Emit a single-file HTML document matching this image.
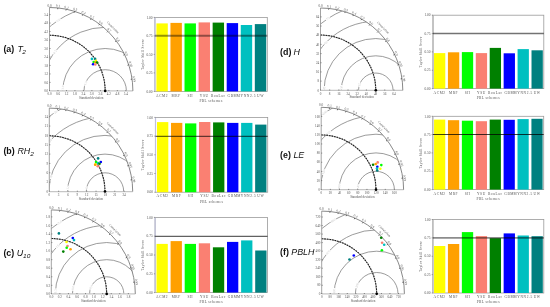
<!DOCTYPE html>
<html><head><meta charset="utf-8"><title>Taylor diagrams and skill scores</title>
<style>
html,body{margin:0;padding:0;background:#fff;}
body{width:550px;height:307px;overflow:hidden;}
svg{display:block;}
</style></head>
<body>
<svg width="550" height="307" viewBox="0 0 550 307">
<rect width="550" height="307" fill="#fff"/>
<clipPath id="c0"><path d="M49.5 90.9 L49.5 7.5 A83.4 83.4 0 0 1 132.9 90.9 Z"/></clipPath>
<g clip-path="url(#c0)" fill="none" stroke="#7a7a7a" stroke-width="0.75">
<circle cx="105.2" cy="90.9" r="21.2"/>
<circle cx="105.2" cy="90.9" r="42.4"/>
<circle cx="105.2" cy="90.9" r="63.6"/>
<circle cx="105.2" cy="90.9" r="84.8"/>
</g>
<g font-family="'Liberation Serif', serif" font-size="3.3" fill="#c8c8c8" stroke="#fff" stroke-width="1.6" paint-order="stroke">
<text transform="translate(85.45 83.2) rotate(-68.7)" text-anchor="middle" dy="1.1">1.5</text><text transform="translate(62.92 87.65) rotate(-85.6)" text-anchor="middle" dy="1.1">3.0</text><text transform="translate(54.95 51.92) rotate(-52.2)" text-anchor="middle" dy="1.1">4.5</text><text transform="translate(58.4 20.19) rotate(-33.5)" text-anchor="middle" dy="1.1">6.0</text>
</g>
<path d="M49.5 35.2 A55.7 55.7 0 0 1 105.2 90.9" fill="none" stroke="#9a9a9a" stroke-width="0.8"/>
<path d="M49.5 35.2 A55.7 55.7 0 0 1 105.2 90.9" fill="none" stroke="#1a1a1a" stroke-width="1.05" stroke-dasharray="1.7 0.9"/>
<line x1="49.5" y1="90.9" x2="132.9" y2="90.9" stroke="#c6c6c6" stroke-width="1.25"/>
<line x1="49.5" y1="90.9" x2="49.5" y2="7.5" stroke="#999" stroke-width="0.9"/>
<path d="M49.5 7.5 A83.4 83.4 0 0 1 132.9 90.9" fill="none" stroke="#6a6a6a" stroke-width="0.8"/>
<line x1="49.5" y1="90.1" x2="49.5" y2="91.1" stroke="#666" stroke-width="0.8"/>
<line x1="57.98" y1="90.1" x2="57.98" y2="91.1" stroke="#666" stroke-width="0.8"/>
<line x1="49.5" y1="82.42" x2="50.5" y2="82.42" stroke="#666" stroke-width="0.8"/>
<line x1="66.46" y1="90.1" x2="66.46" y2="91.1" stroke="#666" stroke-width="0.8"/>
<line x1="49.5" y1="73.94" x2="50.5" y2="73.94" stroke="#666" stroke-width="0.8"/>
<line x1="74.94" y1="90.1" x2="74.94" y2="91.1" stroke="#666" stroke-width="0.8"/>
<line x1="49.5" y1="65.46" x2="50.5" y2="65.46" stroke="#666" stroke-width="0.8"/>
<line x1="83.42" y1="90.1" x2="83.42" y2="91.1" stroke="#666" stroke-width="0.8"/>
<line x1="49.5" y1="56.98" x2="50.5" y2="56.98" stroke="#666" stroke-width="0.8"/>
<line x1="91.9" y1="90.1" x2="91.9" y2="91.1" stroke="#666" stroke-width="0.8"/>
<line x1="49.5" y1="48.5" x2="50.5" y2="48.5" stroke="#666" stroke-width="0.8"/>
<line x1="100.38" y1="90.1" x2="100.38" y2="91.1" stroke="#666" stroke-width="0.8"/>
<line x1="49.5" y1="40.02" x2="50.5" y2="40.02" stroke="#666" stroke-width="0.8"/>
<line x1="108.86" y1="90.1" x2="108.86" y2="91.1" stroke="#666" stroke-width="0.8"/>
<line x1="49.5" y1="31.54" x2="50.5" y2="31.54" stroke="#666" stroke-width="0.8"/>
<line x1="117.34" y1="90.1" x2="117.34" y2="91.1" stroke="#666" stroke-width="0.8"/>
<line x1="49.5" y1="23.06" x2="50.5" y2="23.06" stroke="#666" stroke-width="0.8"/>
<line x1="125.82" y1="90.1" x2="125.82" y2="91.1" stroke="#666" stroke-width="0.8"/>
<line x1="49.5" y1="14.58" x2="50.5" y2="14.58" stroke="#666" stroke-width="0.8"/>
<g font-family="'Liberation Serif', serif" font-size="3.25" fill="#555">
<text x="49.5" y="95.2" text-anchor="middle">0.0</text><text x="48.2" y="92.1" text-anchor="end">0.0</text><text x="57.98" y="95.2" text-anchor="middle">0.6</text><text x="48.2" y="83.62" text-anchor="end">0.6</text><text x="66.46" y="95.2" text-anchor="middle">1.2</text><text x="48.2" y="75.14" text-anchor="end">1.2</text><text x="74.94" y="95.2" text-anchor="middle">1.8</text><text x="48.2" y="66.66" text-anchor="end">1.8</text><text x="83.42" y="95.2" text-anchor="middle">2.4</text><text x="48.2" y="58.18" text-anchor="end">2.4</text><text x="91.9" y="95.2" text-anchor="middle">3.0</text><text x="48.2" y="49.7" text-anchor="end">3.0</text><text x="100.38" y="95.2" text-anchor="middle">3.6</text><text x="48.2" y="41.22" text-anchor="end">3.6</text><text x="108.86" y="95.2" text-anchor="middle">4.2</text><text x="48.2" y="32.74" text-anchor="end">4.2</text><text x="117.34" y="95.2" text-anchor="middle">4.8</text><text x="48.2" y="24.26" text-anchor="end">4.8</text><text x="125.82" y="95.2" text-anchor="middle">5.4</text><text x="48.2" y="15.78" text-anchor="end">5.4</text>
<text x="91.2" y="98.9" text-anchor="middle">Standard deviation</text>
</g>
<line x1="57.84" y1="7.92" x2="57.71" y2="9.21" stroke="#444" stroke-width="0.8"/>
<line x1="66.18" y1="9.19" x2="65.92" y2="10.46" stroke="#444" stroke-width="0.8"/>
<line x1="74.52" y1="11.34" x2="74.13" y2="12.58" stroke="#444" stroke-width="0.8"/>
<line x1="82.86" y1="14.46" x2="82.34" y2="15.65" stroke="#444" stroke-width="0.8"/>
<line x1="91.2" y1="18.67" x2="90.55" y2="19.8" stroke="#444" stroke-width="0.8"/>
<line x1="99.54" y1="24.18" x2="98.76" y2="25.22" stroke="#444" stroke-width="0.8"/>
<line x1="107.88" y1="31.34" x2="106.97" y2="32.27" stroke="#444" stroke-width="0.8"/>
<line x1="116.22" y1="40.86" x2="115.18" y2="41.64" stroke="#444" stroke-width="0.8"/>
<line x1="124.56" y1="54.55" x2="123.39" y2="55.11" stroke="#444" stroke-width="0.8"/>
<line x1="128.73" y1="64.86" x2="127.5" y2="65.26" stroke="#444" stroke-width="0.8"/>
<line x1="132.07" y1="79.13" x2="130.78" y2="79.32" stroke="#444" stroke-width="0.8"/>
<g font-family="'Liberation Serif', serif" font-size="3.4" fill="#555">
<text transform="translate(49.5 6.6) rotate(0)" text-anchor="middle">0.0</text><text transform="translate(57.93 7.02) rotate(5.74)" text-anchor="middle">0.1</text><text transform="translate(66.36 8.3) rotate(11.54)" text-anchor="middle">0.2</text><text transform="translate(74.79 10.48) rotate(17.46)" text-anchor="middle">0.3</text><text transform="translate(83.22 13.64) rotate(23.58)" text-anchor="middle">0.4</text><text transform="translate(91.65 17.89) rotate(30)" text-anchor="middle">0.5</text><text transform="translate(100.08 23.46) rotate(36.87)" text-anchor="middle">0.6</text><text transform="translate(108.51 30.7) rotate(44.43)" text-anchor="middle">0.7</text><text transform="translate(116.94 40.32) rotate(53.13)" text-anchor="middle">0.8</text><text transform="translate(125.37 54.15) rotate(64.16)" text-anchor="middle">0.9</text><text transform="translate(129.59 64.58) rotate(71.81)" text-anchor="middle">0.95</text><text transform="translate(132.96 79.01) rotate(81.89)" text-anchor="middle">0.99</text>
<text transform="translate(112.22 28.18) rotate(45)" text-anchor="middle" font-size="3.1" letter-spacing="0.15" fill="#333">Correlation</text>
</g>
<circle cx="105.2" cy="90.9" r="1.35" fill="#000"/>
<circle cx="91.9" cy="58.9" r="1.32" fill="#00c0c0"/>
<circle cx="95.1" cy="58.9" r="1.32" fill="#008080"/>
<circle cx="95.8" cy="60.9" r="1.32" fill="#ffff00"/>
<circle cx="93.7" cy="62" r="1.32" fill="#00ff00"/>
<circle cx="95.6" cy="62.2" r="1.32" fill="#ffa000"/>
<circle cx="97.1" cy="62.5" r="1.32" fill="#008000"/>
<circle cx="93.1" cy="64.2" r="1.32" fill="#0000ff"/>
<circle cx="95.3" cy="64.5" r="1.32" fill="#fa8072"/>
<rect x="154.9" y="17.4" width="112.4" height="74" fill="none" stroke="#9a9a9a" stroke-width="0.8"/>
<line x1="154.9" y1="17.4" x2="154.9" y2="91.4" stroke="#c0c2da" stroke-width="1.2"/>
<rect x="156.4" y="23.4" width="11.4" height="68" fill="#ffff00"/>
<rect x="170.46" y="22.9" width="11.4" height="68.5" fill="#ffa000"/>
<rect x="184.52" y="23.4" width="11.4" height="68" fill="#00ff00"/>
<rect x="198.58" y="22.4" width="11.4" height="69" fill="#fa8072"/>
<rect x="212.64" y="22.6" width="11.4" height="68.8" fill="#008000"/>
<rect x="226.7" y="23.1" width="11.4" height="68.3" fill="#0000ff"/>
<rect x="240.76" y="25" width="11.4" height="66.4" fill="#00c0c0"/>
<rect x="254.82" y="24.1" width="11.4" height="67.3" fill="#008080"/>
<line x1="154.9" y1="35.7" x2="267.3" y2="35.7" stroke="#000" stroke-opacity="0.42" stroke-width="2"/>
<line x1="153.7" y1="91.4" x2="154.9" y2="91.4" stroke="#777" stroke-width="0.7"/>
<line x1="153.7" y1="72.9" x2="154.9" y2="72.9" stroke="#777" stroke-width="0.7"/>
<line x1="153.7" y1="54.4" x2="154.9" y2="54.4" stroke="#777" stroke-width="0.7"/>
<line x1="153.7" y1="35.9" x2="154.9" y2="35.9" stroke="#777" stroke-width="0.7"/>
<line x1="153.7" y1="17.4" x2="154.9" y2="17.4" stroke="#777" stroke-width="0.7"/>
<g font-family="'Liberation Serif', serif" font-size="3.5" fill="#555">
<text x="152.5" y="92.6" text-anchor="end">0.00</text><text x="152.5" y="74.1" text-anchor="end">0.25</text><text x="152.5" y="55.6" text-anchor="end">0.50</text><text x="152.5" y="37.1" text-anchor="end">0.75</text><text x="152.5" y="18.6" text-anchor="end">1.00</text><text x="162.1" y="96.6" text-anchor="middle" letter-spacing="0.6">ACM2</text><text x="176.16" y="96.6" text-anchor="middle" letter-spacing="0.6">MRF</text><text x="190.22" y="96.6" text-anchor="middle" letter-spacing="0.6">SH</text><text x="204.28" y="96.6" text-anchor="middle" letter-spacing="0.6">YSU</text><text x="218.34" y="96.6" text-anchor="middle" letter-spacing="0.6">BouLac</text><text x="232.4" y="96.6" text-anchor="middle" letter-spacing="0.6">GBM</text><text x="246.46" y="96.6" text-anchor="middle" letter-spacing="0.6">MYNN2.5</text><text x="260.52" y="96.6" text-anchor="middle" letter-spacing="0.6">UW</text>
<text x="211.1" y="101.7" text-anchor="middle" letter-spacing="0.4">PBL schemes</text>
<text transform="translate(143.6 54.4) rotate(-90)" text-anchor="middle" letter-spacing="0.3">Taylor Skill Score</text>
</g>
<g font-family="'Liberation Sans', sans-serif" font-size="8.4" fill="#111"><text transform="translate(3.4 52.1) scale(1.06 1)" font-weight="bold">(a)</text><text transform="translate(17.4 52.1) scale(1.06 1)" font-style="italic">T</text><text transform="translate(22.3 54.1) scale(1.06 1)" font-style="italic" font-size="6.22">2</text></g>
<clipPath id="c1"><path d="M49.3 191.5 L49.3 108.1 A83.4 83.4 0 0 1 132.7 191.5 Z"/></clipPath>
<g clip-path="url(#c1)" fill="none" stroke="#7a7a7a" stroke-width="0.75">
<circle cx="105" cy="191.5" r="18.7"/>
<circle cx="105" cy="191.5" r="37.4"/>
<circle cx="105" cy="191.5" r="56.1"/>
<circle cx="105" cy="191.5" r="74.8"/>
<circle cx="105" cy="191.5" r="93.5"/>
</g>
<g font-family="'Liberation Serif', serif" font-size="3.3" fill="#c8c8c8" stroke="#fff" stroke-width="1.6" paint-order="stroke">
<text transform="translate(86.64 187.93) rotate(-79)" text-anchor="middle" dy="1.1">6</text><text transform="translate(67.77 187.98) rotate(-84.6)" text-anchor="middle" dy="1.1">12</text><text transform="translate(50.81 176.98) rotate(-75)" text-anchor="middle" dy="1.1">18</text><text transform="translate(50.29 140.49) rotate(-47)" text-anchor="middle" dy="1.1">24</text><text transform="translate(55.59 112.12) rotate(-31.9)" text-anchor="middle" dy="1.1">30</text>
</g>
<path d="M49.3 135.8 A55.7 55.7 0 0 1 105 191.5" fill="none" stroke="#9a9a9a" stroke-width="0.8"/>
<path d="M49.3 135.8 A55.7 55.7 0 0 1 105 191.5" fill="none" stroke="#1a1a1a" stroke-width="1.05" stroke-dasharray="1.7 0.9"/>
<line x1="49.3" y1="191.5" x2="132.7" y2="191.5" stroke="#c6c6c6" stroke-width="1.25"/>
<line x1="49.3" y1="191.5" x2="49.3" y2="108.1" stroke="#999" stroke-width="0.9"/>
<path d="M49.3 108.1 A83.4 83.4 0 0 1 132.7 191.5" fill="none" stroke="#6a6a6a" stroke-width="0.8"/>
<line x1="49.3" y1="190.7" x2="49.3" y2="191.7" stroke="#666" stroke-width="0.8"/>
<line x1="58.65" y1="190.7" x2="58.65" y2="191.7" stroke="#666" stroke-width="0.8"/>
<line x1="49.3" y1="182.15" x2="50.3" y2="182.15" stroke="#666" stroke-width="0.8"/>
<line x1="68" y1="190.7" x2="68" y2="191.7" stroke="#666" stroke-width="0.8"/>
<line x1="49.3" y1="172.8" x2="50.3" y2="172.8" stroke="#666" stroke-width="0.8"/>
<line x1="77.35" y1="190.7" x2="77.35" y2="191.7" stroke="#666" stroke-width="0.8"/>
<line x1="49.3" y1="163.45" x2="50.3" y2="163.45" stroke="#666" stroke-width="0.8"/>
<line x1="86.7" y1="190.7" x2="86.7" y2="191.7" stroke="#666" stroke-width="0.8"/>
<line x1="49.3" y1="154.1" x2="50.3" y2="154.1" stroke="#666" stroke-width="0.8"/>
<line x1="96.05" y1="190.7" x2="96.05" y2="191.7" stroke="#666" stroke-width="0.8"/>
<line x1="49.3" y1="144.75" x2="50.3" y2="144.75" stroke="#666" stroke-width="0.8"/>
<line x1="105.4" y1="190.7" x2="105.4" y2="191.7" stroke="#666" stroke-width="0.8"/>
<line x1="49.3" y1="135.4" x2="50.3" y2="135.4" stroke="#666" stroke-width="0.8"/>
<line x1="114.75" y1="190.7" x2="114.75" y2="191.7" stroke="#666" stroke-width="0.8"/>
<line x1="49.3" y1="126.05" x2="50.3" y2="126.05" stroke="#666" stroke-width="0.8"/>
<line x1="124.1" y1="190.7" x2="124.1" y2="191.7" stroke="#666" stroke-width="0.8"/>
<line x1="49.3" y1="116.7" x2="50.3" y2="116.7" stroke="#666" stroke-width="0.8"/>
<g font-family="'Liberation Serif', serif" font-size="3.25" fill="#555">
<text x="49.3" y="195.8" text-anchor="middle">0</text><text x="48" y="192.7" text-anchor="end">0</text><text x="58.65" y="195.8" text-anchor="middle">3</text><text x="48" y="183.35" text-anchor="end">3</text><text x="68" y="195.8" text-anchor="middle">6</text><text x="48" y="174" text-anchor="end">6</text><text x="77.35" y="195.8" text-anchor="middle">9</text><text x="48" y="164.65" text-anchor="end">9</text><text x="86.7" y="195.8" text-anchor="middle">12</text><text x="48" y="155.3" text-anchor="end">12</text><text x="96.05" y="195.8" text-anchor="middle">15</text><text x="48" y="145.95" text-anchor="end">15</text><text x="105.4" y="195.8" text-anchor="middle">18</text><text x="48" y="136.6" text-anchor="end">18</text><text x="114.75" y="195.8" text-anchor="middle">21</text><text x="48" y="127.25" text-anchor="end">21</text><text x="124.1" y="195.8" text-anchor="middle">24</text><text x="48" y="117.9" text-anchor="end">24</text>
<text x="91" y="199.5" text-anchor="middle">Standard deviation</text>
</g>
<line x1="57.64" y1="108.52" x2="57.51" y2="109.81" stroke="#444" stroke-width="0.8"/>
<line x1="65.98" y1="109.79" x2="65.72" y2="111.06" stroke="#444" stroke-width="0.8"/>
<line x1="74.32" y1="111.94" x2="73.93" y2="113.18" stroke="#444" stroke-width="0.8"/>
<line x1="82.66" y1="115.06" x2="82.14" y2="116.25" stroke="#444" stroke-width="0.8"/>
<line x1="91" y1="119.27" x2="90.35" y2="120.4" stroke="#444" stroke-width="0.8"/>
<line x1="99.34" y1="124.78" x2="98.56" y2="125.82" stroke="#444" stroke-width="0.8"/>
<line x1="107.68" y1="131.94" x2="106.77" y2="132.87" stroke="#444" stroke-width="0.8"/>
<line x1="116.02" y1="141.46" x2="114.98" y2="142.24" stroke="#444" stroke-width="0.8"/>
<line x1="124.36" y1="155.15" x2="123.19" y2="155.71" stroke="#444" stroke-width="0.8"/>
<line x1="128.53" y1="165.46" x2="127.3" y2="165.86" stroke="#444" stroke-width="0.8"/>
<line x1="131.87" y1="179.73" x2="130.58" y2="179.92" stroke="#444" stroke-width="0.8"/>
<g font-family="'Liberation Serif', serif" font-size="3.4" fill="#555">
<text transform="translate(49.3 107.2) rotate(0)" text-anchor="middle">0.0</text><text transform="translate(57.73 107.62) rotate(5.74)" text-anchor="middle">0.1</text><text transform="translate(66.16 108.9) rotate(11.54)" text-anchor="middle">0.2</text><text transform="translate(74.59 111.08) rotate(17.46)" text-anchor="middle">0.3</text><text transform="translate(83.02 114.24) rotate(23.58)" text-anchor="middle">0.4</text><text transform="translate(91.45 118.49) rotate(30)" text-anchor="middle">0.5</text><text transform="translate(99.88 124.06) rotate(36.87)" text-anchor="middle">0.6</text><text transform="translate(108.31 131.3) rotate(44.43)" text-anchor="middle">0.7</text><text transform="translate(116.74 140.92) rotate(53.13)" text-anchor="middle">0.8</text><text transform="translate(125.17 154.75) rotate(64.16)" text-anchor="middle">0.9</text><text transform="translate(129.38 165.18) rotate(71.81)" text-anchor="middle">0.95</text><text transform="translate(132.76 179.61) rotate(81.89)" text-anchor="middle">0.99</text>
<text transform="translate(112.02 128.78) rotate(45)" text-anchor="middle" font-size="3.1" letter-spacing="0.15" fill="#333">Correlation</text>
</g>
<circle cx="105" cy="191.5" r="1.35" fill="#000"/>
<circle cx="95.4" cy="164.4" r="1.32" fill="#ffff00"/>
<circle cx="98.1" cy="158.4" r="1.32" fill="#008080"/>
<circle cx="96.1" cy="162" r="1.32" fill="#00ff00"/>
<circle cx="100.8" cy="162" r="1.32" fill="#0000ff"/>
<circle cx="98" cy="163.1" r="1.32" fill="#00c0c0"/>
<circle cx="99.5" cy="163.8" r="1.32" fill="#008000"/>
<circle cx="95.2" cy="164.8" r="1.32" fill="#ffa000"/>
<circle cx="97.8" cy="166.3" r="1.32" fill="#fa8072"/>
<rect x="155.5" y="117.4" width="112.2" height="74.8" fill="none" stroke="#9a9a9a" stroke-width="0.8"/>
<line x1="155.5" y1="117.4" x2="155.5" y2="192.2" stroke="#c0c2da" stroke-width="1.2"/>
<rect x="157" y="122.1" width="11.3" height="70.1" fill="#ffff00"/>
<rect x="171.02" y="122.9" width="11.3" height="69.3" fill="#ffa000"/>
<rect x="185.04" y="123.4" width="11.3" height="68.8" fill="#00ff00"/>
<rect x="199.06" y="122" width="11.3" height="70.2" fill="#fa8072"/>
<rect x="213.08" y="122.4" width="11.3" height="69.8" fill="#008000"/>
<rect x="227.1" y="122.9" width="11.3" height="69.3" fill="#0000ff"/>
<rect x="241.12" y="122.9" width="11.3" height="69.3" fill="#00c0c0"/>
<rect x="255.14" y="124.6" width="11.3" height="67.6" fill="#008080"/>
<line x1="155.5" y1="136.35" x2="267.7" y2="136.35" stroke="#000" stroke-opacity="0.6" stroke-width="1.3"/>
<line x1="154.3" y1="192.2" x2="155.5" y2="192.2" stroke="#777" stroke-width="0.7"/>
<line x1="154.3" y1="173.5" x2="155.5" y2="173.5" stroke="#777" stroke-width="0.7"/>
<line x1="154.3" y1="154.8" x2="155.5" y2="154.8" stroke="#777" stroke-width="0.7"/>
<line x1="154.3" y1="136.1" x2="155.5" y2="136.1" stroke="#777" stroke-width="0.7"/>
<line x1="154.3" y1="117.4" x2="155.5" y2="117.4" stroke="#777" stroke-width="0.7"/>
<g font-family="'Liberation Serif', serif" font-size="3.5" fill="#555">
<text x="153.1" y="193.4" text-anchor="end">0.00</text><text x="153.1" y="174.7" text-anchor="end">0.25</text><text x="153.1" y="156" text-anchor="end">0.50</text><text x="153.1" y="137.3" text-anchor="end">0.75</text><text x="153.1" y="118.6" text-anchor="end">1.00</text><text x="162.65" y="197.4" text-anchor="middle" letter-spacing="0.6">ACM2</text><text x="176.67" y="197.4" text-anchor="middle" letter-spacing="0.6">MRF</text><text x="190.69" y="197.4" text-anchor="middle" letter-spacing="0.6">SH</text><text x="204.71" y="197.4" text-anchor="middle" letter-spacing="0.6">YSU</text><text x="218.73" y="197.4" text-anchor="middle" letter-spacing="0.6">BouLac</text><text x="232.75" y="197.4" text-anchor="middle" letter-spacing="0.6">GBM</text><text x="246.77" y="197.4" text-anchor="middle" letter-spacing="0.6">MYNN2.5</text><text x="260.79" y="197.4" text-anchor="middle" letter-spacing="0.6">UW</text>
<text x="211.6" y="202.5" text-anchor="middle" letter-spacing="0.4">PBL schemes</text>
<text transform="translate(144.2 154.8) rotate(-90)" text-anchor="middle" letter-spacing="0.3">Taylor Skill Score</text>
</g>
<g font-family="'Liberation Sans', sans-serif" font-size="8.4" fill="#111"><text transform="translate(3.4 153.8) scale(1.06 1)" font-weight="bold">(b)</text><text transform="translate(17.4 153.8) scale(1.06 1)" font-style="italic">RH</text><text transform="translate(30.3 155.8) scale(1.06 1)" font-style="italic" font-size="6.22">2</text></g>
<clipPath id="c2"><path d="M51.3 293.9 L51.3 209.9 A84 84 0 0 1 135.3 293.9 Z"/></clipPath>
<g clip-path="url(#c2)" fill="none" stroke="#7a7a7a" stroke-width="0.75">
<circle cx="106.7" cy="293.9" r="17.12"/>
<circle cx="106.7" cy="293.9" r="34.24"/>
<circle cx="106.7" cy="293.9" r="51.36"/>
<circle cx="106.7" cy="293.9" r="68.48"/>
<circle cx="106.7" cy="293.9" r="85.6"/>
</g>
<g font-family="'Liberation Serif', serif" font-size="3.3" fill="#c8c8c8" stroke="#fff" stroke-width="1.6" paint-order="stroke">
<text transform="translate(91.12 286.8) rotate(-65.5)" text-anchor="middle" dy="1.1">0.4</text><text transform="translate(72.96 288.07) rotate(-80.2)" text-anchor="middle" dy="1.1">0.8</text><text transform="translate(55.42 291.03) rotate(-86.8)" text-anchor="middle" dy="1.1">1.2</text><text transform="translate(57.52 246.24) rotate(-45.9)" text-anchor="middle" dy="1.1">1.6</text><text transform="translate(59.7 222.35) rotate(-33.3)" text-anchor="middle" dy="1.1">2.0</text>
</g>
<path d="M51.3 238.5 A55.4 55.4 0 0 1 106.7 293.9" fill="none" stroke="#9a9a9a" stroke-width="0.8"/>
<path d="M51.3 238.5 A55.4 55.4 0 0 1 106.7 293.9" fill="none" stroke="#1a1a1a" stroke-width="1.05" stroke-dasharray="1.7 0.9"/>
<line x1="51.3" y1="293.9" x2="135.3" y2="293.9" stroke="#c6c6c6" stroke-width="1.25"/>
<line x1="51.3" y1="293.9" x2="51.3" y2="209.9" stroke="#999" stroke-width="0.9"/>
<path d="M51.3 209.9 A84 84 0 0 1 135.3 293.9" fill="none" stroke="#6a6a6a" stroke-width="0.8"/>
<line x1="51.3" y1="293.1" x2="51.3" y2="294.1" stroke="#666" stroke-width="0.8"/>
<line x1="59.86" y1="293.1" x2="59.86" y2="294.1" stroke="#666" stroke-width="0.8"/>
<line x1="51.3" y1="285.34" x2="52.3" y2="285.34" stroke="#666" stroke-width="0.8"/>
<line x1="68.42" y1="293.1" x2="68.42" y2="294.1" stroke="#666" stroke-width="0.8"/>
<line x1="51.3" y1="276.78" x2="52.3" y2="276.78" stroke="#666" stroke-width="0.8"/>
<line x1="76.98" y1="293.1" x2="76.98" y2="294.1" stroke="#666" stroke-width="0.8"/>
<line x1="51.3" y1="268.22" x2="52.3" y2="268.22" stroke="#666" stroke-width="0.8"/>
<line x1="85.54" y1="293.1" x2="85.54" y2="294.1" stroke="#666" stroke-width="0.8"/>
<line x1="51.3" y1="259.66" x2="52.3" y2="259.66" stroke="#666" stroke-width="0.8"/>
<line x1="94.1" y1="293.1" x2="94.1" y2="294.1" stroke="#666" stroke-width="0.8"/>
<line x1="51.3" y1="251.1" x2="52.3" y2="251.1" stroke="#666" stroke-width="0.8"/>
<line x1="102.66" y1="293.1" x2="102.66" y2="294.1" stroke="#666" stroke-width="0.8"/>
<line x1="51.3" y1="242.54" x2="52.3" y2="242.54" stroke="#666" stroke-width="0.8"/>
<line x1="111.22" y1="293.1" x2="111.22" y2="294.1" stroke="#666" stroke-width="0.8"/>
<line x1="51.3" y1="233.98" x2="52.3" y2="233.98" stroke="#666" stroke-width="0.8"/>
<line x1="119.78" y1="293.1" x2="119.78" y2="294.1" stroke="#666" stroke-width="0.8"/>
<line x1="51.3" y1="225.42" x2="52.3" y2="225.42" stroke="#666" stroke-width="0.8"/>
<line x1="128.34" y1="293.1" x2="128.34" y2="294.1" stroke="#666" stroke-width="0.8"/>
<line x1="51.3" y1="216.86" x2="52.3" y2="216.86" stroke="#666" stroke-width="0.8"/>
<g font-family="'Liberation Serif', serif" font-size="3.25" fill="#555">
<text x="51.3" y="298.2" text-anchor="middle">0.0</text><text x="50" y="295.1" text-anchor="end">0.0</text><text x="59.86" y="298.2" text-anchor="middle">0.2</text><text x="50" y="286.54" text-anchor="end">0.2</text><text x="68.42" y="298.2" text-anchor="middle">0.4</text><text x="50" y="277.98" text-anchor="end">0.4</text><text x="76.98" y="298.2" text-anchor="middle">0.6</text><text x="50" y="269.42" text-anchor="end">0.6</text><text x="85.54" y="298.2" text-anchor="middle">0.8</text><text x="50" y="260.86" text-anchor="end">0.8</text><text x="94.1" y="298.2" text-anchor="middle">1.0</text><text x="50" y="252.3" text-anchor="end">1.0</text><text x="102.66" y="298.2" text-anchor="middle">1.2</text><text x="50" y="243.74" text-anchor="end">1.2</text><text x="111.22" y="298.2" text-anchor="middle">1.4</text><text x="50" y="235.18" text-anchor="end">1.4</text><text x="119.78" y="298.2" text-anchor="middle">1.6</text><text x="50" y="226.62" text-anchor="end">1.6</text><text x="128.34" y="298.2" text-anchor="middle">1.8</text><text x="50" y="218.06" text-anchor="end">1.8</text>
<text x="93.3" y="301.9" text-anchor="middle">Standard deviation</text>
</g>
<line x1="59.7" y1="210.32" x2="59.57" y2="211.61" stroke="#444" stroke-width="0.8"/>
<line x1="68.1" y1="211.6" x2="67.84" y2="212.87" stroke="#444" stroke-width="0.8"/>
<line x1="76.5" y1="213.77" x2="76.11" y2="215.01" stroke="#444" stroke-width="0.8"/>
<line x1="84.9" y1="216.91" x2="84.38" y2="218.1" stroke="#444" stroke-width="0.8"/>
<line x1="93.3" y1="221.15" x2="92.65" y2="222.28" stroke="#444" stroke-width="0.8"/>
<line x1="101.7" y1="226.7" x2="100.92" y2="227.74" stroke="#444" stroke-width="0.8"/>
<line x1="110.1" y1="233.91" x2="109.19" y2="234.84" stroke="#444" stroke-width="0.8"/>
<line x1="118.5" y1="243.5" x2="117.46" y2="244.28" stroke="#444" stroke-width="0.8"/>
<line x1="126.9" y1="257.29" x2="125.73" y2="257.85" stroke="#444" stroke-width="0.8"/>
<line x1="131.1" y1="267.67" x2="129.87" y2="268.08" stroke="#444" stroke-width="0.8"/>
<line x1="134.46" y1="282.05" x2="133.17" y2="282.23" stroke="#444" stroke-width="0.8"/>
<g font-family="'Liberation Serif', serif" font-size="3.4" fill="#555">
<text transform="translate(51.3 209) rotate(0)" text-anchor="middle">0.0</text><text transform="translate(59.79 209.43) rotate(5.74)" text-anchor="middle">0.1</text><text transform="translate(68.28 210.72) rotate(11.54)" text-anchor="middle">0.2</text><text transform="translate(76.77 212.91) rotate(17.46)" text-anchor="middle">0.3</text><text transform="translate(85.26 216.09) rotate(23.58)" text-anchor="middle">0.4</text><text transform="translate(93.75 220.37) rotate(30)" text-anchor="middle">0.5</text><text transform="translate(102.24 225.98) rotate(36.87)" text-anchor="middle">0.6</text><text transform="translate(110.73 233.27) rotate(44.43)" text-anchor="middle">0.7</text><text transform="translate(119.22 242.96) rotate(53.13)" text-anchor="middle">0.8</text><text transform="translate(127.71 256.89) rotate(64.16)" text-anchor="middle">0.9</text><text transform="translate(131.95 267.39) rotate(71.81)" text-anchor="middle">0.95</text><text transform="translate(135.35 281.92) rotate(81.89)" text-anchor="middle">0.99</text>
<text transform="translate(114.44 230.76) rotate(45)" text-anchor="middle" font-size="3.1" letter-spacing="0.15" fill="#333">Correlation</text>
</g>
<circle cx="106.7" cy="293.9" r="1.35" fill="#000"/>
<circle cx="58.9" cy="233.4" r="1.32" fill="#008080"/>
<circle cx="72.8" cy="238" r="1.32" fill="#0000ff"/>
<circle cx="74" cy="240.1" r="1.32" fill="#00c0c0"/>
<circle cx="66.5" cy="242" r="1.32" fill="#ffff00"/>
<circle cx="67.5" cy="246" r="1.32" fill="#fa8072"/>
<circle cx="66.7" cy="247.7" r="1.32" fill="#00ff00"/>
<circle cx="70.5" cy="249.3" r="1.32" fill="#ffa000"/>
<circle cx="63.3" cy="251.6" r="1.32" fill="#008000"/>
<rect x="155.1" y="217.4" width="112.4" height="75.2" fill="none" stroke="#9a9a9a" stroke-width="0.8"/>
<line x1="155.1" y1="217.4" x2="155.1" y2="292.6" stroke="#c0c2da" stroke-width="1.2"/>
<rect x="156.5" y="243.9" width="11.3" height="48.7" fill="#ffff00"/>
<rect x="170.6" y="241.1" width="11.3" height="51.5" fill="#ffa000"/>
<rect x="184.7" y="243.9" width="11.3" height="48.7" fill="#00ff00"/>
<rect x="198.8" y="243.3" width="11.3" height="49.3" fill="#fa8072"/>
<rect x="212.9" y="247.3" width="11.3" height="45.3" fill="#008000"/>
<rect x="227" y="241.9" width="11.3" height="50.7" fill="#0000ff"/>
<rect x="241.1" y="240.4" width="11.3" height="52.2" fill="#00c0c0"/>
<rect x="255.2" y="250.5" width="11.3" height="42.1" fill="#008080"/>
<line x1="155.1" y1="236.4" x2="267.5" y2="236.4" stroke="#000" stroke-opacity="0.62" stroke-width="1.3"/>
<line x1="153.9" y1="292.6" x2="155.1" y2="292.6" stroke="#777" stroke-width="0.7"/>
<line x1="153.9" y1="273.8" x2="155.1" y2="273.8" stroke="#777" stroke-width="0.7"/>
<line x1="153.9" y1="255" x2="155.1" y2="255" stroke="#777" stroke-width="0.7"/>
<line x1="153.9" y1="236.2" x2="155.1" y2="236.2" stroke="#777" stroke-width="0.7"/>
<line x1="153.9" y1="217.4" x2="155.1" y2="217.4" stroke="#777" stroke-width="0.7"/>
<g font-family="'Liberation Serif', serif" font-size="3.5" fill="#555">
<text x="152.7" y="293.8" text-anchor="end">0.00</text><text x="152.7" y="275" text-anchor="end">0.25</text><text x="152.7" y="256.2" text-anchor="end">0.50</text><text x="152.7" y="237.4" text-anchor="end">0.75</text><text x="152.7" y="218.6" text-anchor="end">1.00</text><text x="162.15" y="297.8" text-anchor="middle" letter-spacing="0.6">ACM2</text><text x="176.25" y="297.8" text-anchor="middle" letter-spacing="0.6">MRF</text><text x="190.35" y="297.8" text-anchor="middle" letter-spacing="0.6">SH</text><text x="204.45" y="297.8" text-anchor="middle" letter-spacing="0.6">YSU</text><text x="218.55" y="297.8" text-anchor="middle" letter-spacing="0.6">BouLac</text><text x="232.65" y="297.8" text-anchor="middle" letter-spacing="0.6">GBM</text><text x="246.75" y="297.8" text-anchor="middle" letter-spacing="0.6">MYNN2.5</text><text x="260.85" y="297.8" text-anchor="middle" letter-spacing="0.6">UW</text>
<text x="211.3" y="302.9" text-anchor="middle" letter-spacing="0.4">PBL schemes</text>
<text transform="translate(143.8 255) rotate(-90)" text-anchor="middle" letter-spacing="0.3">Taylor Skill Score</text>
</g>
<g font-family="'Liberation Sans', sans-serif" font-size="8.4" fill="#111"><text transform="translate(3.4 255.5) scale(1.06 1)" font-weight="bold">(c)</text><text transform="translate(16.8 255.5) scale(1.06 1)" font-style="italic">U</text><text transform="translate(23.1 257.5) scale(1.06 1)" font-style="italic" font-size="6.22">10</text></g>
<clipPath id="c3"><path d="M320.5 90.3 L320.5 8 A82.3 82.3 0 0 1 402.8 90.3 Z"/></clipPath>
<g clip-path="url(#c3)" fill="none" stroke="#7a7a7a" stroke-width="0.75">
<circle cx="375.8" cy="90.3" r="17.25"/>
<circle cx="375.8" cy="90.3" r="34.5"/>
<circle cx="375.8" cy="90.3" r="51.75"/>
<circle cx="375.8" cy="90.3" r="69"/>
<circle cx="375.8" cy="90.3" r="86.25"/>
</g>
<g font-family="'Liberation Serif', serif" font-size="3.3" fill="#c8c8c8" stroke="#fff" stroke-width="1.6" paint-order="stroke">
<text transform="translate(359.49 84.68) rotate(-71)" text-anchor="middle" dy="1.1">15</text><text transform="translate(341.43 87.29) rotate(-85)" text-anchor="middle" dy="1.1">30</text><text transform="translate(324.09 88.31) rotate(-87.8)" text-anchor="middle" dy="1.1">45</text><text transform="translate(325.92 42.63) rotate(-46.3)" text-anchor="middle" dy="1.1">60</text><text transform="translate(327.82 18.63) rotate(-33.8)" text-anchor="middle" dy="1.1">75</text>
</g>
<path d="M320.5 35 A55.3 55.3 0 0 1 375.8 90.3" fill="none" stroke="#9a9a9a" stroke-width="0.8"/>
<path d="M320.5 35 A55.3 55.3 0 0 1 375.8 90.3" fill="none" stroke="#1a1a1a" stroke-width="1.05" stroke-dasharray="1.7 0.9"/>
<line x1="320.5" y1="90.3" x2="402.8" y2="90.3" stroke="#c6c6c6" stroke-width="1.25"/>
<line x1="320.5" y1="90.3" x2="320.5" y2="8" stroke="#999" stroke-width="0.9"/>
<path d="M320.5 8 A82.3 82.3 0 0 1 402.8 90.3" fill="none" stroke="#6a6a6a" stroke-width="0.8"/>
<line x1="320.5" y1="89.5" x2="320.5" y2="90.5" stroke="#666" stroke-width="0.8"/>
<line x1="329.68" y1="89.5" x2="329.68" y2="90.5" stroke="#666" stroke-width="0.8"/>
<line x1="320.5" y1="81.12" x2="321.5" y2="81.12" stroke="#666" stroke-width="0.8"/>
<line x1="338.86" y1="89.5" x2="338.86" y2="90.5" stroke="#666" stroke-width="0.8"/>
<line x1="320.5" y1="71.94" x2="321.5" y2="71.94" stroke="#666" stroke-width="0.8"/>
<line x1="348.04" y1="89.5" x2="348.04" y2="90.5" stroke="#666" stroke-width="0.8"/>
<line x1="320.5" y1="62.76" x2="321.5" y2="62.76" stroke="#666" stroke-width="0.8"/>
<line x1="357.22" y1="89.5" x2="357.22" y2="90.5" stroke="#666" stroke-width="0.8"/>
<line x1="320.5" y1="53.58" x2="321.5" y2="53.58" stroke="#666" stroke-width="0.8"/>
<line x1="366.4" y1="89.5" x2="366.4" y2="90.5" stroke="#666" stroke-width="0.8"/>
<line x1="320.5" y1="44.4" x2="321.5" y2="44.4" stroke="#666" stroke-width="0.8"/>
<line x1="375.58" y1="89.5" x2="375.58" y2="90.5" stroke="#666" stroke-width="0.8"/>
<line x1="320.5" y1="35.22" x2="321.5" y2="35.22" stroke="#666" stroke-width="0.8"/>
<line x1="384.76" y1="89.5" x2="384.76" y2="90.5" stroke="#666" stroke-width="0.8"/>
<line x1="320.5" y1="26.04" x2="321.5" y2="26.04" stroke="#666" stroke-width="0.8"/>
<line x1="393.94" y1="89.5" x2="393.94" y2="90.5" stroke="#666" stroke-width="0.8"/>
<line x1="320.5" y1="16.86" x2="321.5" y2="16.86" stroke="#666" stroke-width="0.8"/>
<g font-family="'Liberation Serif', serif" font-size="3.25" fill="#555">
<text x="320.5" y="94.6" text-anchor="middle">0</text><text x="319.2" y="91.5" text-anchor="end">0</text><text x="329.68" y="94.6" text-anchor="middle">8</text><text x="319.2" y="82.32" text-anchor="end">8</text><text x="338.86" y="94.6" text-anchor="middle">16</text><text x="319.2" y="73.14" text-anchor="end">16</text><text x="348.04" y="94.6" text-anchor="middle">24</text><text x="319.2" y="63.96" text-anchor="end">24</text><text x="357.22" y="94.6" text-anchor="middle">32</text><text x="319.2" y="54.78" text-anchor="end">32</text><text x="366.4" y="94.6" text-anchor="middle">40</text><text x="319.2" y="45.6" text-anchor="end">40</text><text x="375.58" y="94.6" text-anchor="middle">48</text><text x="319.2" y="36.42" text-anchor="end">48</text><text x="384.76" y="94.6" text-anchor="middle">56</text><text x="319.2" y="27.24" text-anchor="end">56</text><text x="393.94" y="94.6" text-anchor="middle">64</text><text x="319.2" y="18.06" text-anchor="end">64</text>
<text x="361.65" y="98.3" text-anchor="middle">Standard deviation</text>
</g>
<line x1="328.73" y1="8.41" x2="328.6" y2="9.71" stroke="#444" stroke-width="0.8"/>
<line x1="336.96" y1="9.66" x2="336.7" y2="10.94" stroke="#444" stroke-width="0.8"/>
<line x1="345.19" y1="11.79" x2="344.8" y2="13.03" stroke="#444" stroke-width="0.8"/>
<line x1="353.42" y1="14.87" x2="352.9" y2="16.06" stroke="#444" stroke-width="0.8"/>
<line x1="361.65" y1="19.03" x2="361" y2="20.15" stroke="#444" stroke-width="0.8"/>
<line x1="369.88" y1="24.46" x2="369.1" y2="25.5" stroke="#444" stroke-width="0.8"/>
<line x1="378.11" y1="31.53" x2="377.2" y2="32.45" stroke="#444" stroke-width="0.8"/>
<line x1="386.34" y1="40.92" x2="385.3" y2="41.7" stroke="#444" stroke-width="0.8"/>
<line x1="394.57" y1="54.43" x2="393.4" y2="54.99" stroke="#444" stroke-width="0.8"/>
<line x1="398.69" y1="64.6" x2="397.45" y2="65.01" stroke="#444" stroke-width="0.8"/>
<line x1="401.98" y1="78.69" x2="400.69" y2="78.87" stroke="#444" stroke-width="0.8"/>
<g font-family="'Liberation Serif', serif" font-size="3.4" fill="#555">
<text transform="translate(320.5 7.1) rotate(0)" text-anchor="middle">0.0</text><text transform="translate(328.82 7.52) rotate(5.74)" text-anchor="middle">0.1</text><text transform="translate(337.14 8.78) rotate(11.54)" text-anchor="middle">0.2</text><text transform="translate(345.46 10.93) rotate(17.46)" text-anchor="middle">0.3</text><text transform="translate(353.78 14.05) rotate(23.58)" text-anchor="middle">0.4</text><text transform="translate(362.1 18.25) rotate(30)" text-anchor="middle">0.5</text><text transform="translate(370.42 23.74) rotate(36.87)" text-anchor="middle">0.6</text><text transform="translate(378.74 30.88) rotate(44.43)" text-anchor="middle">0.7</text><text transform="translate(387.06 40.38) rotate(53.13)" text-anchor="middle">0.8</text><text transform="translate(395.38 54.03) rotate(64.16)" text-anchor="middle">0.9</text><text transform="translate(399.54 64.32) rotate(71.81)" text-anchor="middle">0.95</text><text transform="translate(402.87 78.56) rotate(81.89)" text-anchor="middle">0.99</text>
<text transform="translate(382.44 28.36) rotate(45)" text-anchor="middle" font-size="3.1" letter-spacing="0.15" fill="#333">Correlation</text>
</g>
<circle cx="375.8" cy="90.3" r="1.35" fill="#000"/>
<rect x="433" y="15.2" width="110.8" height="73.4" fill="none" stroke="#9a9a9a" stroke-width="0.8"/>
<line x1="433" y1="15.2" x2="433" y2="88.6" stroke="#b8b8b8" stroke-width="1.2"/>
<rect x="434" y="53.1" width="11.3" height="35.5" fill="#ffff00"/>
<rect x="447.93" y="52.3" width="11.3" height="36.3" fill="#ffa000"/>
<rect x="461.86" y="52.1" width="11.3" height="36.5" fill="#00ff00"/>
<rect x="475.79" y="53.1" width="11.3" height="35.5" fill="#fa8072"/>
<rect x="489.72" y="47.9" width="11.3" height="40.7" fill="#008000"/>
<rect x="503.65" y="53.3" width="11.3" height="35.3" fill="#0000ff"/>
<rect x="517.58" y="49.1" width="11.3" height="39.5" fill="#00c0c0"/>
<rect x="531.51" y="50.3" width="11.3" height="38.3" fill="#008080"/>
<line x1="433" y1="33.5" x2="543.8" y2="33.5" stroke="#000" stroke-opacity="0.55" stroke-width="1.5"/>
<line x1="431.8" y1="88.6" x2="433" y2="88.6" stroke="#777" stroke-width="0.7"/>
<line x1="431.8" y1="70.25" x2="433" y2="70.25" stroke="#777" stroke-width="0.7"/>
<line x1="431.8" y1="51.9" x2="433" y2="51.9" stroke="#777" stroke-width="0.7"/>
<line x1="431.8" y1="33.55" x2="433" y2="33.55" stroke="#777" stroke-width="0.7"/>
<line x1="431.8" y1="15.2" x2="433" y2="15.2" stroke="#777" stroke-width="0.7"/>
<g font-family="'Liberation Serif', serif" font-size="3.5" fill="#555">
<text x="430.6" y="89.8" text-anchor="end">0.00</text><text x="430.6" y="71.45" text-anchor="end">0.25</text><text x="430.6" y="53.1" text-anchor="end">0.50</text><text x="430.6" y="34.75" text-anchor="end">0.75</text><text x="430.6" y="16.4" text-anchor="end">1.00</text><text x="439.65" y="93.8" text-anchor="middle" letter-spacing="0.6">ACM2</text><text x="453.58" y="93.8" text-anchor="middle" letter-spacing="0.6">MRF</text><text x="467.51" y="93.8" text-anchor="middle" letter-spacing="0.6">SH</text><text x="481.44" y="93.8" text-anchor="middle" letter-spacing="0.6">YSU</text><text x="495.37" y="93.8" text-anchor="middle" letter-spacing="0.6">BouLac</text><text x="509.3" y="93.8" text-anchor="middle" letter-spacing="0.6">GBM</text><text x="523.23" y="93.8" text-anchor="middle" letter-spacing="0.6">MYNN2.5</text><text x="537.16" y="93.8" text-anchor="middle" letter-spacing="0.6">UW</text>
<text x="488.4" y="98.9" text-anchor="middle" letter-spacing="0.4">PBL schemes</text>
<text transform="translate(421.7 51.9) rotate(-90)" text-anchor="middle" letter-spacing="0.3">Taylor Skill Score</text>
</g>
<g font-family="'Liberation Sans', sans-serif" font-size="8.4" fill="#111"><text transform="translate(280 55.3) scale(1.06 1)" font-weight="bold">(d)</text><text transform="translate(293.4 55.3) scale(1.06 1)" font-style="italic">H</text></g>
<clipPath id="c4"><path d="M321.2 189.7 L321.2 107.3 A82.4 82.4 0 0 1 403.6 189.7 Z"/></clipPath>
<g clip-path="url(#c4)" fill="none" stroke="#7a7a7a" stroke-width="0.75">
<circle cx="376" cy="189.7" r="18.4"/>
<circle cx="376" cy="189.7" r="36.8"/>
<circle cx="376" cy="189.7" r="55.5"/>
<circle cx="376" cy="189.7" r="74"/>
<circle cx="376" cy="189.7" r="92.5"/>
</g>
<g font-family="'Liberation Serif', serif" font-size="3.3" fill="#c8c8c8" stroke="#fff" stroke-width="1.6" paint-order="stroke">
<text transform="translate(357.9 186.38) rotate(-79.6)" text-anchor="middle" dy="1.1">40</text><text transform="translate(339.39 185.98) rotate(-84.2)" text-anchor="middle" dy="1.1">80</text><text transform="translate(323.37 172.09) rotate(-71.5)" text-anchor="middle" dy="1.1">120</text><text transform="translate(328.43 133.01) rotate(-40)" text-anchor="middle" dy="1.1">160</text><text transform="translate(324.81 112.65) rotate(-33.6)" text-anchor="middle" dy="1.1">200</text>
</g>
<path d="M321.2 134.9 A54.8 54.8 0 0 1 376 189.7" fill="none" stroke="#9a9a9a" stroke-width="0.8"/>
<path d="M321.2 134.9 A54.8 54.8 0 0 1 376 189.7" fill="none" stroke="#1a1a1a" stroke-width="1.05" stroke-dasharray="1.7 0.9"/>
<line x1="321.2" y1="189.7" x2="403.6" y2="189.7" stroke="#c6c6c6" stroke-width="1.25"/>
<line x1="321.2" y1="189.7" x2="321.2" y2="107.3" stroke="#999" stroke-width="0.9"/>
<path d="M321.2 107.3 A82.4 82.4 0 0 1 403.6 189.7" fill="none" stroke="#6a6a6a" stroke-width="0.8"/>
<line x1="321.2" y1="188.9" x2="321.2" y2="189.9" stroke="#666" stroke-width="0.8"/>
<line x1="330.35" y1="188.9" x2="330.35" y2="189.9" stroke="#666" stroke-width="0.8"/>
<line x1="321.2" y1="180.55" x2="322.2" y2="180.55" stroke="#666" stroke-width="0.8"/>
<line x1="339.5" y1="188.9" x2="339.5" y2="189.9" stroke="#666" stroke-width="0.8"/>
<line x1="321.2" y1="171.4" x2="322.2" y2="171.4" stroke="#666" stroke-width="0.8"/>
<line x1="348.65" y1="188.9" x2="348.65" y2="189.9" stroke="#666" stroke-width="0.8"/>
<line x1="321.2" y1="162.25" x2="322.2" y2="162.25" stroke="#666" stroke-width="0.8"/>
<line x1="357.8" y1="188.9" x2="357.8" y2="189.9" stroke="#666" stroke-width="0.8"/>
<line x1="321.2" y1="153.1" x2="322.2" y2="153.1" stroke="#666" stroke-width="0.8"/>
<line x1="366.95" y1="188.9" x2="366.95" y2="189.9" stroke="#666" stroke-width="0.8"/>
<line x1="321.2" y1="143.95" x2="322.2" y2="143.95" stroke="#666" stroke-width="0.8"/>
<line x1="376.1" y1="188.9" x2="376.1" y2="189.9" stroke="#666" stroke-width="0.8"/>
<line x1="321.2" y1="134.8" x2="322.2" y2="134.8" stroke="#666" stroke-width="0.8"/>
<line x1="385.25" y1="188.9" x2="385.25" y2="189.9" stroke="#666" stroke-width="0.8"/>
<line x1="321.2" y1="125.65" x2="322.2" y2="125.65" stroke="#666" stroke-width="0.8"/>
<line x1="394.4" y1="188.9" x2="394.4" y2="189.9" stroke="#666" stroke-width="0.8"/>
<line x1="321.2" y1="116.5" x2="322.2" y2="116.5" stroke="#666" stroke-width="0.8"/>
<g font-family="'Liberation Serif', serif" font-size="3.25" fill="#555">
<text x="321.2" y="194" text-anchor="middle">0</text><text x="319.9" y="190.9" text-anchor="end">0</text><text x="330.35" y="194" text-anchor="middle">20</text><text x="319.9" y="181.75" text-anchor="end">20</text><text x="339.5" y="194" text-anchor="middle">40</text><text x="319.9" y="172.6" text-anchor="end">40</text><text x="348.65" y="194" text-anchor="middle">60</text><text x="319.9" y="163.45" text-anchor="end">60</text><text x="357.8" y="194" text-anchor="middle">80</text><text x="319.9" y="154.3" text-anchor="end">80</text><text x="366.95" y="194" text-anchor="middle">100</text><text x="319.9" y="145.15" text-anchor="end">100</text><text x="376.1" y="194" text-anchor="middle">120</text><text x="319.9" y="136" text-anchor="end">120</text><text x="385.25" y="194" text-anchor="middle">140</text><text x="319.9" y="126.85" text-anchor="end">140</text><text x="394.4" y="194" text-anchor="middle">160</text><text x="319.9" y="117.7" text-anchor="end">160</text>
<text x="362.4" y="197.7" text-anchor="middle">Standard deviation</text>
</g>
<line x1="329.44" y1="107.71" x2="329.31" y2="109.01" stroke="#444" stroke-width="0.8"/>
<line x1="337.68" y1="108.96" x2="337.42" y2="110.24" stroke="#444" stroke-width="0.8"/>
<line x1="345.92" y1="111.1" x2="345.53" y2="112.34" stroke="#444" stroke-width="0.8"/>
<line x1="354.16" y1="114.18" x2="353.64" y2="115.37" stroke="#444" stroke-width="0.8"/>
<line x1="362.4" y1="118.34" x2="361.75" y2="119.47" stroke="#444" stroke-width="0.8"/>
<line x1="370.64" y1="123.78" x2="369.86" y2="124.82" stroke="#444" stroke-width="0.8"/>
<line x1="378.88" y1="130.85" x2="377.97" y2="131.78" stroke="#444" stroke-width="0.8"/>
<line x1="387.12" y1="140.26" x2="386.08" y2="141.04" stroke="#444" stroke-width="0.8"/>
<line x1="395.36" y1="153.78" x2="394.19" y2="154.35" stroke="#444" stroke-width="0.8"/>
<line x1="399.48" y1="163.97" x2="398.25" y2="164.38" stroke="#444" stroke-width="0.8"/>
<line x1="402.78" y1="178.08" x2="401.49" y2="178.26" stroke="#444" stroke-width="0.8"/>
<g font-family="'Liberation Serif', serif" font-size="3.4" fill="#555">
<text transform="translate(321.2 106.4) rotate(0)" text-anchor="middle">0.0</text><text transform="translate(329.53 106.82) rotate(5.74)" text-anchor="middle">0.1</text><text transform="translate(337.86 108.08) rotate(11.54)" text-anchor="middle">0.2</text><text transform="translate(346.19 110.24) rotate(17.46)" text-anchor="middle">0.3</text><text transform="translate(354.52 113.35) rotate(23.58)" text-anchor="middle">0.4</text><text transform="translate(362.85 117.56) rotate(30)" text-anchor="middle">0.5</text><text transform="translate(371.18 123.06) rotate(36.87)" text-anchor="middle">0.6</text><text transform="translate(379.51 130.21) rotate(44.43)" text-anchor="middle">0.7</text><text transform="translate(387.84 139.72) rotate(53.13)" text-anchor="middle">0.8</text><text transform="translate(396.17 153.39) rotate(64.16)" text-anchor="middle">0.9</text><text transform="translate(400.33 163.69) rotate(71.81)" text-anchor="middle">0.95</text><text transform="translate(403.67 177.95) rotate(81.89)" text-anchor="middle">0.99</text>
<text transform="translate(383.21 127.69) rotate(45)" text-anchor="middle" font-size="3.1" letter-spacing="0.15" fill="#333">Correlation</text>
</g>
<circle cx="376" cy="189.7" r="1.35" fill="#000"/>
<circle cx="373.1" cy="164.7" r="1.32" fill="#008000"/>
<circle cx="377.7" cy="162.4" r="1.32" fill="#fa8072"/>
<circle cx="375.7" cy="164" r="1.32" fill="#ffa000"/>
<circle cx="381.3" cy="165.1" r="1.32" fill="#00ff00"/>
<circle cx="377.3" cy="166.8" r="1.32" fill="#0000ff"/>
<circle cx="380.3" cy="168.8" r="1.32" fill="#ffff00"/>
<circle cx="377" cy="168.6" r="1.32" fill="#00c0c0"/>
<circle cx="377.2" cy="170.5" r="1.32" fill="#008080"/>
<rect x="432.8" y="116.3" width="110.9" height="73.3" fill="none" stroke="#9a9a9a" stroke-width="0.8"/>
<line x1="432.8" y1="116.3" x2="432.8" y2="189.6" stroke="#b8b8b8" stroke-width="1.2"/>
<rect x="434.05" y="119.6" width="11.2" height="70" fill="#ffff00"/>
<rect x="447.96" y="120.2" width="11.2" height="69.4" fill="#ffa000"/>
<rect x="461.87" y="120.7" width="11.2" height="68.9" fill="#00ff00"/>
<rect x="475.78" y="121.2" width="11.2" height="68.4" fill="#fa8072"/>
<rect x="489.69" y="119.6" width="11.2" height="70" fill="#008000"/>
<rect x="503.6" y="119.8" width="11.2" height="69.8" fill="#0000ff"/>
<rect x="517.51" y="119.1" width="11.2" height="70.5" fill="#00c0c0"/>
<rect x="531.42" y="118.8" width="11.2" height="70.8" fill="#008080"/>
<line x1="432.8" y1="134.45" x2="543.7" y2="134.45" stroke="#000" stroke-opacity="0.75" stroke-width="1.15"/>
<line x1="431.6" y1="189.6" x2="432.8" y2="189.6" stroke="#777" stroke-width="0.7"/>
<line x1="431.6" y1="171.28" x2="432.8" y2="171.28" stroke="#777" stroke-width="0.7"/>
<line x1="431.6" y1="152.95" x2="432.8" y2="152.95" stroke="#777" stroke-width="0.7"/>
<line x1="431.6" y1="134.62" x2="432.8" y2="134.62" stroke="#777" stroke-width="0.7"/>
<line x1="431.6" y1="116.3" x2="432.8" y2="116.3" stroke="#777" stroke-width="0.7"/>
<g font-family="'Liberation Serif', serif" font-size="3.5" fill="#555">
<text x="430.4" y="190.8" text-anchor="end">0.00</text><text x="430.4" y="172.47" text-anchor="end">0.25</text><text x="430.4" y="154.15" text-anchor="end">0.50</text><text x="430.4" y="135.82" text-anchor="end">0.75</text><text x="430.4" y="117.5" text-anchor="end">1.00</text><text x="439.65" y="194.8" text-anchor="middle" letter-spacing="0.6">ACM2</text><text x="453.56" y="194.8" text-anchor="middle" letter-spacing="0.6">MRF</text><text x="467.47" y="194.8" text-anchor="middle" letter-spacing="0.6">SH</text><text x="481.38" y="194.8" text-anchor="middle" letter-spacing="0.6">YSU</text><text x="495.29" y="194.8" text-anchor="middle" letter-spacing="0.6">BouLac</text><text x="509.2" y="194.8" text-anchor="middle" letter-spacing="0.6">GBM</text><text x="523.11" y="194.8" text-anchor="middle" letter-spacing="0.6">MYNN2.5</text><text x="537.02" y="194.8" text-anchor="middle" letter-spacing="0.6">UW</text>
<text x="488.25" y="199.9" text-anchor="middle" letter-spacing="0.4">PBL schemes</text>
<text transform="translate(421.5 152.95) rotate(-90)" text-anchor="middle" letter-spacing="0.3">Taylor Skill Score</text>
</g>
<g font-family="'Liberation Sans', sans-serif" font-size="8.4" fill="#111"><text transform="translate(280 157.5) scale(1.06 1)" font-weight="bold">(e)</text><text transform="translate(293.4 157.5) scale(1.06 1)" font-style="italic">LE</text></g>
<clipPath id="c5"><path d="M321.7 293.8 L321.7 211.1 A82.7 82.7 0 0 1 404.4 293.8 Z"/></clipPath>
<g clip-path="url(#c5)" fill="none" stroke="#7a7a7a" stroke-width="0.75">
<circle cx="376.7" cy="293.8" r="21.3"/>
<circle cx="376.7" cy="293.8" r="42.6"/>
<circle cx="376.7" cy="293.8" r="63.9"/>
<circle cx="376.7" cy="293.8" r="85.2"/>
</g>
<g font-family="'Liberation Serif', serif" font-size="3.3" fill="#c8c8c8" stroke="#fff" stroke-width="1.6" paint-order="stroke">
<text transform="translate(357.18 285.27) rotate(-66.4)" text-anchor="middle" dy="1.1">200</text><text transform="translate(334.17 291.27) rotate(-86.6)" text-anchor="middle" dy="1.1">400</text><text transform="translate(328.11 252.3) rotate(-49.5)" text-anchor="middle" dy="1.1">600</text><text transform="translate(333.2 220.54) rotate(-30.7)" text-anchor="middle" dy="1.1">800</text>
</g>
<path d="M321.7 238.8 A55 55 0 0 1 376.7 293.8" fill="none" stroke="#9a9a9a" stroke-width="0.8"/>
<path d="M321.7 238.8 A55 55 0 0 1 376.7 293.8" fill="none" stroke="#1a1a1a" stroke-width="1.05" stroke-dasharray="1.7 0.9"/>
<line x1="321.7" y1="293.8" x2="404.4" y2="293.8" stroke="#c6c6c6" stroke-width="1.25"/>
<line x1="321.7" y1="293.8" x2="321.7" y2="211.1" stroke="#999" stroke-width="0.9"/>
<path d="M321.7 211.1 A82.7 82.7 0 0 1 404.4 293.8" fill="none" stroke="#6a6a6a" stroke-width="0.8"/>
<line x1="321.7" y1="293" x2="321.7" y2="294" stroke="#666" stroke-width="0.8"/>
<line x1="330.23" y1="293" x2="330.23" y2="294" stroke="#666" stroke-width="0.8"/>
<line x1="321.7" y1="285.27" x2="322.7" y2="285.27" stroke="#666" stroke-width="0.8"/>
<line x1="338.76" y1="293" x2="338.76" y2="294" stroke="#666" stroke-width="0.8"/>
<line x1="321.7" y1="276.74" x2="322.7" y2="276.74" stroke="#666" stroke-width="0.8"/>
<line x1="347.29" y1="293" x2="347.29" y2="294" stroke="#666" stroke-width="0.8"/>
<line x1="321.7" y1="268.21" x2="322.7" y2="268.21" stroke="#666" stroke-width="0.8"/>
<line x1="355.82" y1="293" x2="355.82" y2="294" stroke="#666" stroke-width="0.8"/>
<line x1="321.7" y1="259.68" x2="322.7" y2="259.68" stroke="#666" stroke-width="0.8"/>
<line x1="364.35" y1="293" x2="364.35" y2="294" stroke="#666" stroke-width="0.8"/>
<line x1="321.7" y1="251.15" x2="322.7" y2="251.15" stroke="#666" stroke-width="0.8"/>
<line x1="372.88" y1="293" x2="372.88" y2="294" stroke="#666" stroke-width="0.8"/>
<line x1="321.7" y1="242.62" x2="322.7" y2="242.62" stroke="#666" stroke-width="0.8"/>
<line x1="381.41" y1="293" x2="381.41" y2="294" stroke="#666" stroke-width="0.8"/>
<line x1="321.7" y1="234.09" x2="322.7" y2="234.09" stroke="#666" stroke-width="0.8"/>
<line x1="389.94" y1="293" x2="389.94" y2="294" stroke="#666" stroke-width="0.8"/>
<line x1="321.7" y1="225.56" x2="322.7" y2="225.56" stroke="#666" stroke-width="0.8"/>
<line x1="398.47" y1="293" x2="398.47" y2="294" stroke="#666" stroke-width="0.8"/>
<line x1="321.7" y1="217.03" x2="322.7" y2="217.03" stroke="#666" stroke-width="0.8"/>
<g font-family="'Liberation Serif', serif" font-size="3.25" fill="#555">
<text x="321.7" y="298.1" text-anchor="middle">0</text><text x="320.4" y="295" text-anchor="end">0</text><text x="330.23" y="298.1" text-anchor="middle">80</text><text x="320.4" y="286.47" text-anchor="end">80</text><text x="338.76" y="298.1" text-anchor="middle">160</text><text x="320.4" y="277.94" text-anchor="end">160</text><text x="347.29" y="298.1" text-anchor="middle">240</text><text x="320.4" y="269.41" text-anchor="end">240</text><text x="355.82" y="298.1" text-anchor="middle">320</text><text x="320.4" y="260.88" text-anchor="end">320</text><text x="364.35" y="298.1" text-anchor="middle">400</text><text x="320.4" y="252.35" text-anchor="end">400</text><text x="372.88" y="298.1" text-anchor="middle">480</text><text x="320.4" y="243.82" text-anchor="end">480</text><text x="381.41" y="298.1" text-anchor="middle">560</text><text x="320.4" y="235.29" text-anchor="end">560</text><text x="389.94" y="298.1" text-anchor="middle">640</text><text x="320.4" y="226.76" text-anchor="end">640</text><text x="398.47" y="298.1" text-anchor="middle">720</text><text x="320.4" y="218.23" text-anchor="end">720</text>
<text x="363.05" y="301.8" text-anchor="middle">Standard deviation</text>
</g>
<line x1="329.97" y1="211.51" x2="329.84" y2="212.81" stroke="#444" stroke-width="0.8"/>
<line x1="338.24" y1="212.77" x2="337.98" y2="214.04" stroke="#444" stroke-width="0.8"/>
<line x1="346.51" y1="214.91" x2="346.12" y2="216.15" stroke="#444" stroke-width="0.8"/>
<line x1="354.78" y1="218" x2="354.26" y2="219.2" stroke="#444" stroke-width="0.8"/>
<line x1="363.05" y1="222.18" x2="362.4" y2="223.31" stroke="#444" stroke-width="0.8"/>
<line x1="371.32" y1="227.64" x2="370.54" y2="228.68" stroke="#444" stroke-width="0.8"/>
<line x1="379.59" y1="234.74" x2="378.68" y2="235.67" stroke="#444" stroke-width="0.8"/>
<line x1="387.86" y1="244.18" x2="386.82" y2="244.96" stroke="#444" stroke-width="0.8"/>
<line x1="396.13" y1="257.75" x2="394.96" y2="258.32" stroke="#444" stroke-width="0.8"/>
<line x1="400.26" y1="267.98" x2="399.03" y2="268.38" stroke="#444" stroke-width="0.8"/>
<line x1="403.57" y1="282.13" x2="402.29" y2="282.32" stroke="#444" stroke-width="0.8"/>
<g font-family="'Liberation Serif', serif" font-size="3.4" fill="#555">
<text transform="translate(321.7 210.2) rotate(0)" text-anchor="middle">0.0</text><text transform="translate(330.06 210.62) rotate(5.74)" text-anchor="middle">0.1</text><text transform="translate(338.42 211.89) rotate(11.54)" text-anchor="middle">0.2</text><text transform="translate(346.78 214.05) rotate(17.46)" text-anchor="middle">0.3</text><text transform="translate(355.14 217.18) rotate(23.58)" text-anchor="middle">0.4</text><text transform="translate(363.5 221.4) rotate(30)" text-anchor="middle">0.5</text><text transform="translate(371.86 226.92) rotate(36.87)" text-anchor="middle">0.6</text><text transform="translate(380.22 234.1) rotate(44.43)" text-anchor="middle">0.7</text><text transform="translate(388.58 243.64) rotate(53.13)" text-anchor="middle">0.8</text><text transform="translate(396.94 257.36) rotate(64.16)" text-anchor="middle">0.9</text><text transform="translate(401.12 267.7) rotate(71.81)" text-anchor="middle">0.95</text><text transform="translate(404.46 282.01) rotate(81.89)" text-anchor="middle">0.99</text>
<text transform="translate(383.93 231.57) rotate(45)" text-anchor="middle" font-size="3.1" letter-spacing="0.15" fill="#333">Correlation</text>
</g>
<circle cx="376.7" cy="293.8" r="1.35" fill="#000"/>
<circle cx="381.2" cy="237.8" r="1.32" fill="#008000"/>
<circle cx="382.1" cy="242.8" r="1.32" fill="#fa8072"/>
<circle cx="384.2" cy="244.7" r="1.32" fill="#00c0c0"/>
<circle cx="381.9" cy="250.2" r="1.32" fill="#00ff00"/>
<circle cx="353.8" cy="255.5" r="1.32" fill="#0000ff"/>
<circle cx="349.5" cy="259.5" r="1.32" fill="#008080"/>
<rect x="432.9" y="219.5" width="110.9" height="73.5" fill="none" stroke="#9a9a9a" stroke-width="0.8"/>
<line x1="432.9" y1="219.5" x2="432.9" y2="293" stroke="#b8b8b8" stroke-width="1.2"/>
<rect x="434" y="246" width="11.3" height="47" fill="#ffff00"/>
<rect x="447.93" y="244" width="11.3" height="49" fill="#ffa000"/>
<rect x="461.86" y="232.1" width="11.3" height="60.9" fill="#00ff00"/>
<rect x="475.79" y="236.1" width="11.3" height="56.9" fill="#fa8072"/>
<rect x="489.72" y="238.2" width="11.3" height="54.8" fill="#008000"/>
<rect x="503.65" y="233.4" width="11.3" height="59.6" fill="#0000ff"/>
<rect x="517.58" y="235.5" width="11.3" height="57.5" fill="#00c0c0"/>
<rect x="531.51" y="236.2" width="11.3" height="56.8" fill="#008080"/>
<line x1="432.9" y1="237.9" x2="543.8" y2="237.9" stroke="#000" stroke-opacity="0.45" stroke-width="1.7"/>
<line x1="431.7" y1="293" x2="432.9" y2="293" stroke="#777" stroke-width="0.7"/>
<line x1="431.7" y1="274.62" x2="432.9" y2="274.62" stroke="#777" stroke-width="0.7"/>
<line x1="431.7" y1="256.25" x2="432.9" y2="256.25" stroke="#777" stroke-width="0.7"/>
<line x1="431.7" y1="237.88" x2="432.9" y2="237.88" stroke="#777" stroke-width="0.7"/>
<line x1="431.7" y1="219.5" x2="432.9" y2="219.5" stroke="#777" stroke-width="0.7"/>
<g font-family="'Liberation Serif', serif" font-size="3.5" fill="#555">
<text x="430.5" y="294.2" text-anchor="end">0.00</text><text x="430.5" y="275.82" text-anchor="end">0.25</text><text x="430.5" y="257.45" text-anchor="end">0.50</text><text x="430.5" y="239.07" text-anchor="end">0.75</text><text x="430.5" y="220.7" text-anchor="end">1.00</text><text x="439.65" y="298.2" text-anchor="middle" letter-spacing="0.6">ACM2</text><text x="453.58" y="298.2" text-anchor="middle" letter-spacing="0.6">MRF</text><text x="467.51" y="298.2" text-anchor="middle" letter-spacing="0.6">SH</text><text x="481.44" y="298.2" text-anchor="middle" letter-spacing="0.6">YSU</text><text x="495.37" y="298.2" text-anchor="middle" letter-spacing="0.6">BouLac</text><text x="509.3" y="298.2" text-anchor="middle" letter-spacing="0.6">GBM</text><text x="523.23" y="298.2" text-anchor="middle" letter-spacing="0.6">MYNN2.5</text><text x="537.16" y="298.2" text-anchor="middle" letter-spacing="0.6">UW</text>
<text x="488.35" y="303.3" text-anchor="middle" letter-spacing="0.4">PBL schemes</text>
<text transform="translate(421.6 256.25) rotate(-90)" text-anchor="middle" letter-spacing="0.3">Taylor Skill Score</text>
</g>
<g font-family="'Liberation Sans', sans-serif" font-size="8.4" fill="#111"><text transform="translate(280 255.3) scale(1.06 1)" font-weight="bold">(f)</text><text transform="translate(291.2 255.3) scale(1.06 1)" font-style="italic">PBLH</text></g>
</svg>
</body></html>
